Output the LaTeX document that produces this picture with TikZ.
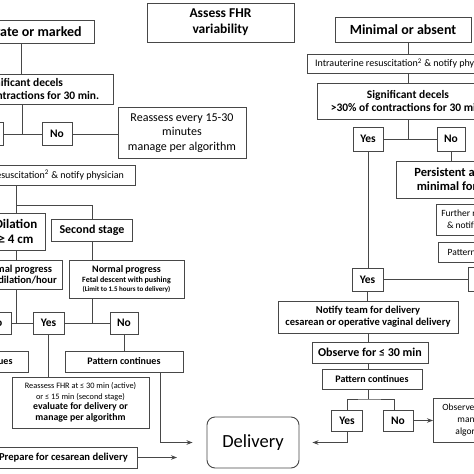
\documentclass[tikz,border=0pt]{standalone}
\usepackage{fontspec}
\setmainfont{Carlito}
\usetikzlibrary{arrows.meta,calc}
\newcommand\fsz[2]{\fontsize{#1}{#2}\selectfont}
\tikzset{
  bx/.style={draw=black!72, line width=0.9pt, inner sep=0pt, align=center, text=black},
  yn/.style={bx, font=\fsz{11.5}{13}\bfseries},
  ln/.style={draw=black!72, line width=0.9pt},
  arr/.style={ln, -{Stealth[length=6pt,width=4.5pt]}},
}
\begin{document}
\begin{tikzpicture}[x=1pt,y=-1pt]
\useasboundingbox (0,0) rectangle (474,474);
\fill[white] (0,0) rectangle (474,474);
\clip (0,0) rectangle (474,474);

% ---------- left branch ----------
\node[bx, minimum width=145, minimum height=23, font=\fsz{14}{16}\bfseries] (mod) at (21.5,31.5) {Moderate or marked};
\node[bx, minimum width=182, minimum height=30, font=\fsz{11.5}{13}\bfseries] (sigL) at (22,89) {Significant decels\\>30\% of contractions for 30 min.};
\node[yn, minimum width=31, minimum height=23] (yesA) at (-12.5,134) {Yes};
\node[yn, minimum width=30, minimum height=23] (noA) at (57,134) {No};
\node[bx, minimum width=128, minimum height=51, font=\fsz{12}{14.5}] (reA) at (182,133) {Reassess every 15-30\\minutes\\manage per algorithm};
\draw[ln] (mod.south) -- (mod.south |- sigL.north);
\draw[ln] (sigL.south) -- (sigL.south |- yesA.east);
\draw[ln] (yesA.east) -- (noA.west);
\draw[ln] (noA.east) -- (noA.east -| reA.west);

\node[bx, minimum width=204, minimum height=20, font=\fsz{10}{12}] (intL) at (33,175) {Intrauterine resuscitation\textsuperscript{2} \& notify physician};
\node[bx, minimum width=58, minimum height=37, font=\fsz{13}{15}\bfseries] (dil) at (16,231.5) {Dilation\\≥ 4 cm};
\node[bx, minimum width=81, minimum height=22, font=\fsz{12}{14}\bfseries] (sec) at (92,230) {Second stage};
\coordinate (jA) at (16,205);
\draw[ln] (dil.north |- intL.south) -- (dil.north);
\draw[ln] (jA) -| (sec.north);

\node[bx, minimum width=92, minimum height=29, font=\fsz{10.5}{11.5}\bfseries] (npA) at (16,274.5) {Normal progress\\1 cm dilation/hour};
\node[bx, minimum width=115, minimum height=38, font=\fsz{8}{11.5}\bfseries] (npB) at (126.5,279) {{\fsz{10}{11.5}Normal progress}\\[-1pt]{\fsz{8}{9.5}Fetal descent with pushing}\\[-2.5pt]{\fsz{7}{9}(Limit to 1.5 hours to delivery)}};
\draw[ln] (dil.south) -- (npA.north);
\draw[ln] (sec.south) -- (sec.south |- npB.north);

\node[yn, minimum width=31, minimum height=22] (noB) at (-4.5,323) {No};
\node[yn, minimum width=31, minimum height=22] (yesB) at (48.5,323) {Yes};
\node[yn, minimum width=28, minimum height=22] (noC) at (124,323) {No};
\draw[ln] (npA.south) -- (npA.south |- noB.east);
\draw[ln] (noB.east) -- (yesB.west);
\draw[ln] (sec.south |- npB.south) -- (sec.south |- yesB.east);
\draw[ln] (yesB.east) -- (noC.west);

\node[bx, minimum width=104, minimum height=21, font=\fsz{10}{12}\bfseries] (pcA) at (-24,361.5) {Pattern continues};
\node[bx, minimum width=118, minimum height=21, font=\fsz{10}{12}\bfseries] (pcB) at (124,361.5) {Pattern continues};
\draw[ln] (noC.south) -- (pcB.north);

\node[bx, minimum width=137, minimum height=51, font=\fsz{8.3}{10.5}] (reB) at (80.5,402.5) {Reassess FHR at ≤ 30 min (active)\\or ≤ 15 min (second stage)\\{\fsz{9.8}{11}\bfseries evaluate for delivery or}\\{\fsz{9.8}{11}\bfseries manage per algorithm}};
\draw[ln] (yesB.south) -- (yesB.south |- reB.north);

\node[bx, minimum width=147, minimum height=21, font=\fsz{10.6}{12}\bfseries] (prep) at (63.5,457.5) {Prepare for cesarean delivery};
\node[bx, rounded corners=8pt, minimum width=92, minimum height=51, font=\fsz{18.5}{22}] (deliv) at (253,442.5) {Delivery};
\coordinate (prepEnd) at (177,457.5);
\draw[arr] (prep.east) -- (prepEnd);
\draw[arr, shorten >=14pt] ($(pcB.south west)+(96,0)$) |- (deliv.west);

% ---------- top ----------
\node[bx, minimum width=147, minimum height=39, font=\fsz{13.5}{16}\bfseries] (assess) at (220.5,22.5) {Assess FHR\\variability};

% ---------- right branch ----------
\node[bx, minimum width=136, minimum height=25, font=\fsz{14}{16}\bfseries] (minim) at (403,29.5) {Minimal or absent};
\node[bx, minimum width=198, minimum height=19, font=\fsz{10}{12}] (intR) at (406,63.5) {Intrauterine resuscitation\textsuperscript{2} \& notify physician};
\node[bx, minimum width=182, minimum height=36, font=\fsz{11.5}{13}\bfseries] (sigR) at (408,101) {Significant decels\\>30\% of contractions for 30 min.};
\draw[ln] (sigR.north |- minim.south) -- (sigR.north |- intR.north);
\draw[ln] (sigR.north |- intR.south) -- (sigR.north);
\node[yn, minimum width=30, minimum height=24] (yesC) at (368,139) {Yes};
\node[yn, minimum width=28, minimum height=24] (noD) at (451,139) {No};
\draw[ln] (sigR.south) -- (sigR.south |- yesC.east);
\draw[ln] (yesC.east) -- (noD.west);

\node[bx, minimum width=140, minimum height=37, font=\fsz{12.5}{14}\bfseries] (pers) at (466,179.5) {Persistent absent or\\minimal for 60 min};
\draw[ln] (noD.south) -- (noD.south |- pers.north);
\node[bx, minimum width=91, minimum height=31, font=\fsz{9.5}{12}] (furt) at (481.5,219.5) {Further resuscitation\\\& notify physician};
\node[bx, minimum width=87, minimum height=20, font=\fsz{9.5}{11}] (patC) at (481.5,252) {Pattern continues};

\node[yn, minimum width=31, minimum height=23] (yesD) at (367.5,279.5) {Yes};
\node[yn, minimum width=30, minimum height=24] (noE) at (483,279.5) {No};
\draw[ln] (yesC.south) -- (yesC.south |- yesD.north);
\draw[ln] (yesD.east) -- (noE.west);

\node[bx, minimum width=180, minimum height=32, font=\fsz{10.5}{12}\bfseries] (notify) at (368,317) {Notify team for delivery\\cesarean or operative vaginal delivery};
\draw[ln] (yesD.south) -- (yesD.south |- notify.north);
\node[bx, minimum width=116, minimum height=21, font=\fsz{12}{14}\bfseries] (obs) at (370,352.5) {Observe for ≤ 30 min};
\draw[ln] (notify.south) -- (notify.south |- obs.north);
\node[bx, minimum width=100, minimum height=20, font=\fsz{10}{12}\bfseries] (patD) at (372,379) {Pattern continues};
\draw[ln] (notify.south |- obs.south) -- (notify.south |- patD.north);

\node[yn, minimum width=31, minimum height=21] (yesE) at (347,420.5) {Yes};
\node[yn, minimum width=30, minimum height=21] (noF) at (398,420.5) {No};
\coordinate (jB) at (368,399);
\coordinate (noFin) at (394,410);
\draw[ln] (notify.south |- patD.south) -- (jB);
\draw[ln] (yesE.north) |- (jB) -| (noFin);

\node[bx, anchor=west, inner xsep=9pt, minimum height=44, align=left, font=\fsz{9.5}{12}] (obsR) at (433,420) {Observe and\\\hspace*{15pt}manage per\\\hspace*{13pt}algorithm};
\draw[arr] (noF.east) -- (noF.east -| obsR.west);
\draw[arr, shorten >=13pt] (yesE.south) |- (deliv.east);
\end{tikzpicture}
\end{document}
